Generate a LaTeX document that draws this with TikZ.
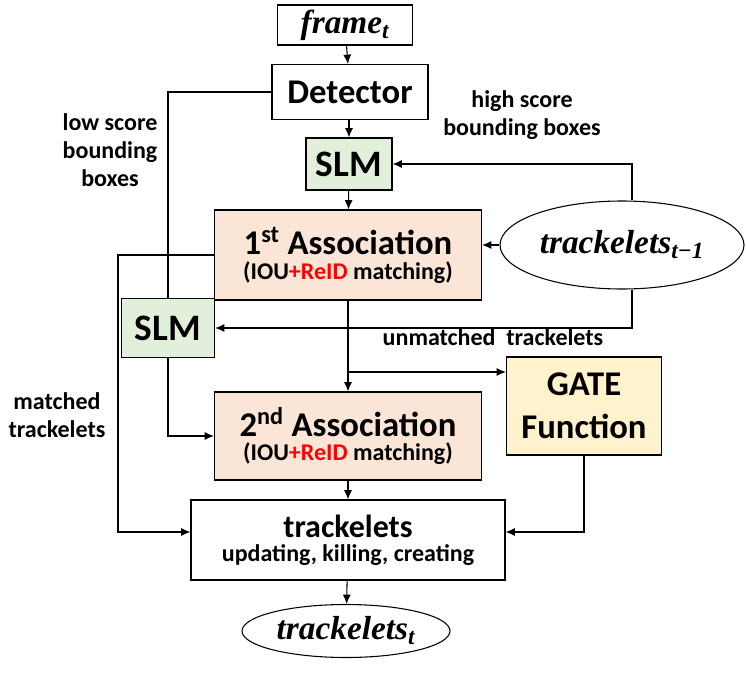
\documentclass[tikz,border=0pt]{standalone}
\usepackage{fontspec}
\setmainfont{Carlito}
\newfontfamily\mathlike{Liberation Serif}
\usetikzlibrary{shapes.geometric,arrows.meta}
\definecolor{slmgreen}{HTML}{E2EFDA}
\definecolor{asspink}{HTML}{FBE5D6}
\definecolor{gateyellow}{HTML}{FFF2CC}
\newcommand{\mvar}[2]{{\mathlike\bfseries\itshape #1\textsubscript{#2}}}
\tikzset{
  box/.style={draw, thick, align=center, font=\bfseries, inner sep=0pt},
  lbl/.style={align=center, font=\fontsize{18}{21}\selectfont\bfseries},
  arr/.style={-{Latex[length=7pt,width=6pt]}, thick},
}
\begin{document}
\begin{tikzpicture}[x=0.75pt, y=-0.75pt]
		\useasboundingbox (0,0) rectangle (746,685);
		\node [box, minimum width=135*0.75pt, minimum height=40*0.75pt, font=\fontsize{25}{27}\selectfont] (frame) at (345,25) {\mvar{frame}{t}};
		\node [box, minimum width=156*0.75pt, minimum height=55*0.75pt, font=\fontsize{26}{28}\selectfont\bfseries] (det) at (350,92) {Detector};
		\node [box, fill=slmgreen, minimum width=86*0.75pt, minimum height=52*0.75pt, font=\fontsize{28}{30}\selectfont\bfseries] (slm1) at (349,164) {SLM};
		\node [box, fill=asspink, minimum width=267*0.75pt, minimum height=90*0.75pt] (ass1) at (348,255) {{\fontsize{26}{28}\selectfont 1\textsuperscript{st} Association}\\[4pt]{\fontsize{18}{21}\selectfont (IOU\textcolor{red}{+ReID} matching)}};
		\node [box, ellipse, minimum width=244*0.75pt, minimum height=88*0.75pt, font=\fontsize{25}{27}\selectfont] (prev) at (622,245) {\mvar{trackelets}{t−1}};
		\node [box, fill=slmgreen, minimum width=93*0.75pt, minimum height=59*0.75pt, font=\fontsize{28}{30}\selectfont\bfseries] (slm2) at (168,328) {SLM};
		\node [box, fill=gateyellow, minimum width=155*0.75pt, minimum height=98*0.75pt, font=\fontsize{26}{32}\selectfont\bfseries] (gate) at (584,406) {GATE\\Function};
		\node [box, fill=asspink, minimum width=267*0.75pt, minimum height=88*0.75pt] (ass2) at (348,436) {{\fontsize{26}{28}\selectfont 2\textsuperscript{nd} Association}\\[4pt]{\fontsize{18}{21}\selectfont (IOU\textcolor{red}{+ReID} matching)}};
		\node [box, minimum width=314*0.75pt, minimum height=80*0.75pt] (trk) at (348,540) {{\fontsize{24}{26}\selectfont trackelets}\\[4pt]{\fontsize{18}{21}\selectfont updating, killing, creating}};
		\node [box, ellipse, minimum width=208*0.75pt, minimum height=53*0.75pt, font=\fontsize{25}{27}\selectfont] (cur) at (346,631) {\mvar{trackelets}{t}};
		% labels
		\node [lbl] (high) at (522,115) {high score\\bounding boxes};
		\node [lbl] (low) at (110,150) {low score\\bounding\\boxes};
		\node [lbl] (unm) at (493,337) {unmatched\ \ trackelets};
		\node [lbl] (mat) at (57,415) {matched\\trackelets};
		\coordinate (fork) at (348,372);
		% connectors
		\draw [arr] (frame) -- (det);
		\draw [arr] (det.south -| slm1) -- (slm1);
		\draw [arr] (slm1) -- (ass1);
		\draw [thick] (det.west) -| (slm2.north -| 168,0);
		\draw [arr] (prev.north -| 632,0) |- (slm1.east);
		\draw [arr] (prev.south -| 632,0) |- (slm2.east);
		\draw [arr] (prev.west) -- (prev.west -| ass1.east);
		\draw [arr] (ass1) -- (ass2);
		\draw [arr] (fork) -- (fork -| gate.west);
		\draw [arr] (slm2.south) |- (ass2.west);
		\draw [arr] (ass1.west) -| (118,532) -- (trk.west |- 0,532);
		\draw [arr] (ass2) -- (trk);
		\draw [arr] (gate.south) |- (trk.east |- 0,532);
		\draw [arr] (trk) -- (cur);
	\end{tikzpicture}
\end{document}
